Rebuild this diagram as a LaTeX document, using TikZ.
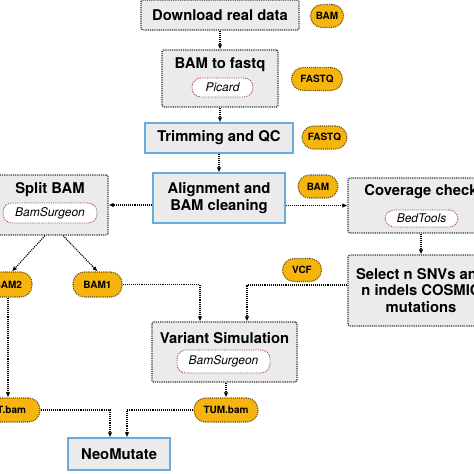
\documentclass[tikz,border=0pt]{standalone}
\usepackage{fontspec}
\setmainfont{TeX Gyre Heros}
\usepackage{tikz}
\usetikzlibrary{arrows.meta, positioning}
\definecolor{boxgray}{RGB}{235,235,236}
\definecolor{edgeblue}{RGB}{104,172,222}
\definecolor{badgeorange}{RGB}{246,180,14}
\definecolor{badgeedge}{RGB}{105,78,12}
\definecolor{pilledge}{RGB}{150,60,60}

\begin{document}
\begin{tikzpicture}[
    x=1pt, y=-1pt,
    title/.style={font=\fontsize{14.8}{17}\selectfont\bfseries, inner sep=0pt, align=center},
    task/.style={
        draw=black!80,
        densely dotted,
        line width=1.2pt,
        fill=boxgray,
        rounded corners=1.5pt,
        inner sep=0pt
    },
    main/.style={
        draw=edgeblue,
        line width=1.3pt,
        fill=boxgray,
        inner sep=0pt,
        title
    },
    tool/.style={
        draw=pilledge,
        densely dotted,
        line width=0.8pt,
        fill=white,
        rounded corners=9pt,
        minimum height=19pt,
        inner sep=0pt,
        font=\fontsize{12}{14}\selectfont\itshape
    },
    file/.style={
        draw=badgeedge,
        densely dotted,
        line width=1.1pt,
        fill=badgeorange,
        rounded corners=11.5pt,
        minimum height=23pt,
        inner sep=0pt,
        font=\fontsize{10}{12}\selectfont\bfseries
    },
    flow/.style={densely dotted, line width=1.1pt, -{Latex[length=5pt,width=4.5pt]}}
]
\useasboundingbox (0,0) rectangle (474,474);
\clip (0,0) rectangle (474,474);

\node[task, title, minimum width=158pt, minimum height=30pt] (dl) at (220,15) {Download real data};
\node[file, minimum width=33pt] (bamA) at (327,16) {BAM};

\node[task, minimum width=116pt, minimum height=57pt] (b2f) at (220,78.5) {};
\node[title] (b2ft) at (220,65) {BAM to fastq};
\node[tool, minimum width=61pt] (picard) at (222.5,87.5) {Picard};
\node[file, minimum width=51pt] (fqA) at (317,79) {FASTQ};

\node[main, minimum width=148pt, minimum height=30pt] (trim) at (219,138) {Trimming and QC};
\node[file, minimum width=45pt] (fqB) at (324.5,137.5) {FASTQ};

\node[main, minimum width=132pt, minimum height=50pt] (align) at (219,198) {Alignment and\\BAM cleaning};
\node[file, minimum width=40pt] (bamB) at (318,186.5) {BAM};

\node[task, minimum width=116pt, minimum height=60pt] (split) at (50,205) {};
\node[title] (splitt) at (50,190) {Split BAM};
\node[tool, minimum width=94pt, minimum height=20pt] (bsA) at (50,213) {BamSurgeon};

\node[task, minimum width=146pt, minimum height=55pt] (cov) at (421,205.5) {};
\node[title] (covt) at (421,192) {Coverage check};
\node[tool, minimum width=73pt, minimum height=17pt] (bedtools) at (421.5,218.5) {BedTools};

\node[task, minimum width=146pt, minimum height=71pt,
      font=\fontsize{14.8}{16.5}\selectfont\bfseries, align=center] (sel) at (421,290.5)
      {Select n SNVs and\\n indels COSMIC\\mutations};

\node[file, minimum width=48pt, minimum height=25pt] (bam2) at (8,284.5) {BAM2};
\node[file, minimum width=49pt, minimum height=25pt] (bam1) at (97.5,284.5) {BAM1};
\node[file, minimum width=39pt] (vcf) at (302,270) {VCF};

\node[task, minimum width=145pt, minimum height=60pt] (varsim) at (224.5,352) {};
\node[title] (varsimt) at (224.5,338) {Variant Simulation};
\node[tool, minimum width=93pt, minimum height=23pt] (bsB) at (223.5,361.5) {BamSurgeon};

\node[file, minimum width=64pt, minimum height=24pt] (tum) at (226,410) {TUM.bam};
\node[file, minimum width=64pt, minimum height=24pt] (nt) at (8,410) {NT.bam};
\node[main, minimum width=102pt, minimum height=32pt] (neo) at (119,454) {NeoMutate};

\draw[flow] (dl) -- (b2f);
\draw[flow] (b2f.south) -- (b2f.south |- trim.north);
\draw[flow] (trim) -- (align);
\draw[flow] (align.west |- split) -- (split);
\draw[flow] (align.east |- cov) -- (cov);
\draw[flow] (cov) -- (sel);
\draw[flow] ([xshift=-5pt]split.south) -- ([xshift=4pt]bam2.north);
\draw[flow] ([xshift=13pt]split.south) -- (bam1.north);
\draw[flow] (bam1) -| ([xshift=-24.5pt]varsim.north);
\draw[flow] ([yshift=5.5pt]sel.west) -| ([xshift=22.5pt]varsim.north);
\draw[flow] (varsim.south -| tum) -- (tum);
\draw[flow] (bam2) -- (nt);
\draw[flow] (nt) -| ([xshift=-9pt]neo.north);
\draw[flow] (tum) -| ([xshift=8pt]neo.north);

\end{tikzpicture}
\end{document}
